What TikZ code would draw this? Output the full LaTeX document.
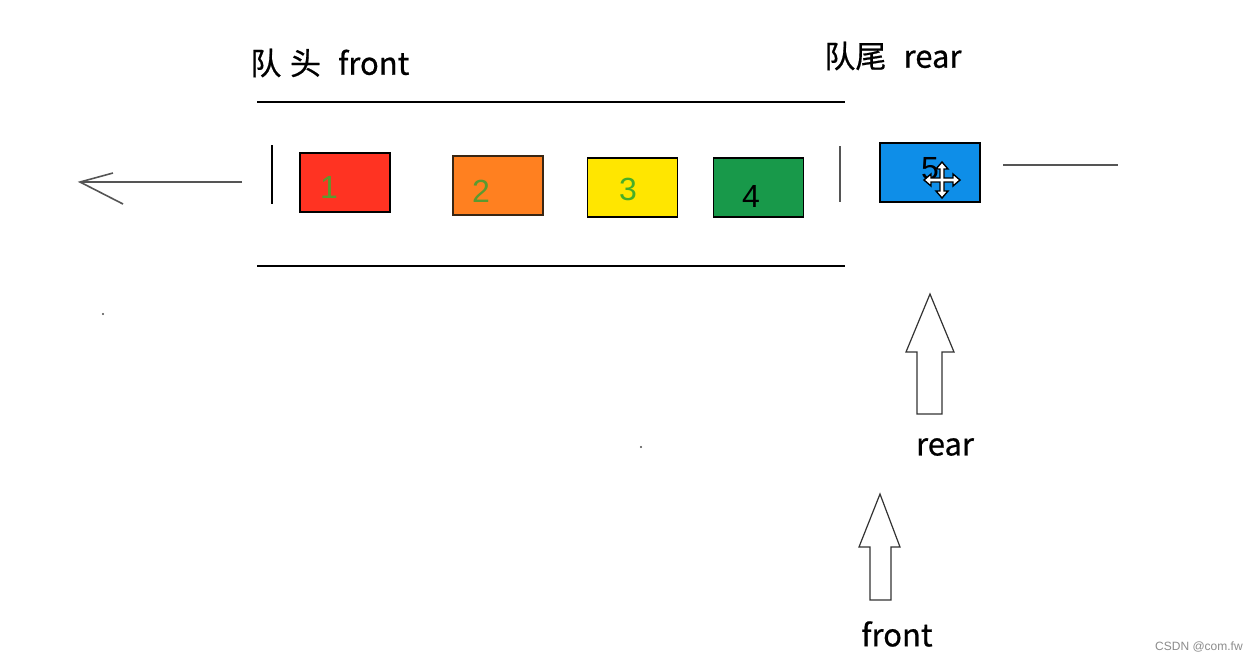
\documentclass[tikz,border=0pt]{standalone}
\usepackage{fontspec}
\setmainfont{Noto Sans CJK SC}[FakeBold=0.6]
\newfontfamily\numfont{Liberation Sans}
\definecolor{qred}{HTML}{FF3322}
\definecolor{qorange}{HTML}{FF8020}
\definecolor{qyellow}{HTML}{FFE600}
\definecolor{qgreen}{HTML}{18994A}
\definecolor{qblue}{HTML}{0E8EE8}
\definecolor{numgreen}{HTML}{5A9A30}
\definecolor{lgrey}{HTML}{555555}
\tikzset{
  qbox/.style={draw=black, line width=0.8pt, minimum width=45pt, minimum height=29.5pt, inner sep=0pt},
  numlab/.style={font=\numfont\fontsize{16}{16}\selectfont, inner sep=0pt},
  lab/.style={font=\fontsize{15.5}{15.5}\selectfont, inner sep=0pt, anchor=west},
  wall/.style={line width=0.7pt, draw=black},
  bigarrow/.style={draw=black!80, line width=0.6pt, fill=white, line join=miter}
}
\begin{document}
\begin{tikzpicture}[x=0.5pt, y=-0.5pt]
\useasboundingbox[fill=white] (0,0) rectangle (1255,661);
% labels
\node[lab] (hl) at (250,63) {队\;头\;\;front};
\node[lab] (tl) at (824,56) {队尾\;\;rear};
% queue walls
\coordinate (t1) at (257,102); \coordinate (t2) at (845,102);
\coordinate (b1) at (257,266); \coordinate (b2) at (845,266);
\draw[wall] (t1) -- (t2);
\draw[wall] (b1) -- (b2);
\coordinate (v1a) at (272,145); \coordinate (v1b) at (272,204);
\coordinate (v2a) at (840,146); \coordinate (v2b) at (840,202);
\draw[wall] (v1a) -- (v1b);
\draw[line width=0.7pt, draw=lgrey] (v2a) -- (v2b);
% left arrow
\coordinate (la1) at (242,182); \coordinate (la2) at (80,182);
\coordinate (lb1) at (113,173); \coordinate (lb2) at (123,204);
\draw[line width=1pt, draw=lgrey] (la1) -- (la2);
\draw[line width=0.8pt, draw=lgrey] (lb1) -- (la2) -- (lb2);
% boxes
\node[qbox, fill=qred, minimum width=45pt] (n1) at (345,182.5) {};
\node[numlab, text=numgreen] at (329,187) {1};
\node[qbox, fill=qorange, draw=black!70!brown] (n2) at (498,185.5) {};
\node[numlab, text=numgreen] at (481,191) {2};
\node[qbox, fill=qyellow] (n3) at (632.5,187.5) {};
\node[numlab, text=numgreen!80!green] at (628,189) {3};
\node[qbox, fill=qgreen] (n4) at (758.5,187.5) {};
\node[numlab, text=black] at (751,196) {4};
\node[qbox, fill=qblue, minimum width=50pt] (n5) at (930,172.5) {};
\node[numlab, text=black] (five) at (930,169) {5};
% move cursor
\begin{scope}[shift={(942,180)}]
  \draw[fill=white, draw=black, line width=0.7pt, line join=miter]
    (18,0) -- (11,-6) -- (11,-2) -- (2,-2) -- (2,-11) -- (6,-11) -- (0,-18)
    -- (-6,-11) -- (-2,-11) -- (-2,-2) -- (-11,-2) -- (-11,-6) -- (-18,0)
    -- (-11,6) -- (-11,2) -- (-2,2) -- (-2,11) -- (-6,11) -- (0,18)
    -- (6,11) -- (2,11) -- (2,2) -- (11,2) -- (11,6) -- cycle;
\end{scope}
% right line
\coordinate (r1) at (1003,165); \coordinate (r2) at (1118,165);
\draw[line width=1pt, draw=lgrey] (r1) -- (r2);
% rear arrow
\draw[bigarrow] (930,294) -- (954,352) -- (942,352) -- (942,414) -- (917,414) -- (917,352) -- (906,352) -- cycle;
\node[lab, anchor=center] (rearlab) at (945,447) {rear};
% front arrow
\draw[bigarrow] (880,494) -- (900,547) -- (891,547) -- (891,600) -- (870,600) -- (870,547) -- (859,547) -- cycle;
\node[lab, anchor=center] (frontlab) at (897,634) {front};
% specks
\fill[black!70] (103,314) circle (1.2);
\fill[black!70] (641,447) circle (1.2);
% watermark
\node[font=\fontsize{6}{6}\selectfont\numfont, text=black!45, inner sep=0pt] (wm) at (1199,647) {CSDN @com.fw};
\end{tikzpicture}
\end{document}
